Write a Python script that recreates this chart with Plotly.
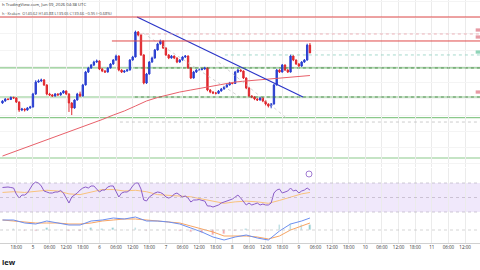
import plotly.graph_objects as go
import pandas as pd

# ---------------- data (hourly candles, Jun 4 13:00 -> Jun 9 04:00) ----------------
start_time = "2026-06-04 13:00"
n_candles = 112

opens = [133.50,133.75,133.99,133.93,134.18,134.12,133.62,132.64,132.76,132.64,
         132.89,133.01,134.61,136.08,136.21,136.33,135.72,134.61,134.49,134.36,
         134.61,134.49,134.73,134.98,134.61,133.50,132.89,133.87,134.61,134.36,
         135.72,137.31,137.81,138.17,138.54,138.67,137.68,137.44,137.31,137.81,
         138.30,138.79,139.28,137.56,137.31,137.44,137.56,138.79,139.16,142.23,
         141.87,139.41,135.96,137.07,138.54,139.04,140.02,140.76,141.13,140.27,
         139.41,139.04,139.28,139.04,138.54,138.79,139.16,139.28,137.81,136.58,
         137.31,137.56,137.62,137.68,137.81,135.10,134.85,134.73,134.70,134.98,
         135.22,135.47,135.72,135.96,135.90,137.31,137.56,137.44,136.58,135.35,
         134.36,134.24,133.99,133.87,134.12,133.75,133.38,133.13,133.38,135.72,
         137.56,137.31,138.17,137.56,137.31,139.28,138.79,138.30,138.05,138.54,
         138.79,140.62]
closes = [133.75,133.99,133.93,134.18,134.12,133.62,132.64,132.76,132.64,132.89,
          133.01,134.61,136.08,136.21,136.33,135.72,134.61,134.49,134.36,134.61,
          134.49,134.73,134.98,134.61,133.50,132.89,133.87,134.61,134.36,135.72,
          137.31,137.81,138.17,138.54,138.67,137.68,137.44,137.31,137.81,138.30,
          138.79,139.28,137.56,137.31,137.44,137.56,138.79,139.16,142.23,141.87,
          139.41,135.96,137.07,138.54,139.04,140.02,140.76,141.13,140.27,139.41,
          139.04,139.28,139.04,138.54,138.79,139.16,139.28,137.81,136.58,137.31,
          137.56,137.62,137.68,137.81,135.10,134.85,134.73,134.70,134.98,135.22,
          135.47,135.72,135.96,135.90,137.31,137.56,137.44,136.58,135.35,134.36,
          134.24,133.99,133.87,134.12,133.75,133.38,133.13,133.38,135.72,137.56,
          137.31,138.17,137.56,137.31,139.28,138.79,138.30,138.05,138.54,138.79,
          140.62,139.66]
highs = [133.85,134.10,134.08,134.30,134.28,134.20,133.70,132.90,132.85,133.00,
         133.15,134.75,136.30,136.40,136.50,136.45,135.80,134.75,134.60,134.72,
         134.70,134.85,135.10,135.05,134.70,133.60,133.95,134.75,134.90,135.85,
         137.45,137.95,138.30,138.70,138.85,138.75,137.80,137.55,137.90,138.40,
         138.90,139.45,139.35,137.65,137.55,137.70,138.90,139.30,142.40,142.35,
         141.95,139.50,137.20,138.65,139.20,140.15,140.90,141.30,141.20,140.35,
         139.50,139.40,139.35,139.10,138.90,139.25,139.40,139.35,137.90,137.45,
         137.65,137.75,137.80,137.95,137.90,135.20,134.95,134.85,135.10,135.35,
         135.60,135.85,136.10,136.05,137.45,137.70,137.65,137.50,136.65,135.45,
         134.45,134.35,134.10,134.25,134.20,133.85,133.45,133.50,135.85,137.70,
         137.65,138.30,138.25,137.65,139.45,139.40,138.85,138.40,138.65,138.90,
         140.80,140.88]
lows = [133.40,133.65,133.85,133.88,134.00,133.50,132.40,132.50,132.45,132.55,
        132.80,132.95,134.50,136.00,136.10,135.60,134.45,134.35,134.25,134.28,
        134.40,134.40,134.65,134.50,132.40,132.02,132.80,133.80,134.25,134.30,
        135.65,137.20,137.70,138.05,138.45,137.55,137.30,137.20,137.25,137.75,
        138.20,138.70,137.40,137.20,137.20,137.35,137.50,138.70,139.10,141.70,
        139.30,135.80,135.85,137.00,138.45,138.95,139.95,140.65,140.15,139.30,
        138.90,138.95,138.90,138.40,138.45,138.70,139.05,137.70,136.45,136.50,
        137.20,137.45,137.50,137.60,134.95,134.70,134.60,134.55,134.60,134.90,
        135.15,135.40,135.65,135.80,135.85,137.20,137.30,136.45,135.20,134.20,
        134.10,133.85,133.75,133.80,133.60,133.20,132.95,132.85,133.30,135.65,
        137.20,137.25,137.45,137.20,137.25,138.65,138.20,137.95,137.95,138.45,
        138.70,139.65]

# moving average (sampled every 4 hours + last bar)
ma_values = [126.98,127.47,127.97,128.46,128.95,129.44,129.93,130.43,130.92,131.47,
             132.02,132.52,133.13,133.75,134.18,134.55,134.85,135.10,135.35,135.65,
             135.90,136.08,136.21,136.33,136.45,136.58,136.70,136.82,136.88]

rsi_values = [63.8,64.5,64.5,63.8,63.1,54.8,49.3,53.4,53.4,56.2,
              61.7,68.6,71.4,70.0,65.9,59.0,57.6,56.2,56.2,57.6,
              57.6,59.7,56.2,49.3,42.4,50.7,53.4,56.2,60.3,63.1,
              64.5,63.1,65.9,65.9,61.7,57.6,60.3,60.3,64.5,65.9,
              65.9,59.0,50.7,56.2,57.6,57.6,60.3,65.9,70.0,70.0,
              61.7,46.6,45.2,50.7,53.4,56.2,57.6,56.9,54.8,50.7,
              49.3,50.7,54.8,56.2,53.4,50.7,52.1,49.3,43.8,46.6,
              46.6,47.2,46.0,45.2,38.3,38.3,36.9,38.3,39.7,42.4,
              43.8,45.2,46.6,47.9,50.7,53.4,49.3,45.2,39.7,42.4,
              39.7,41.0,42.4,39.7,41.0,39.7,39.7,42.4,56.2,60.3,
              61.7,56.2,57.6,59.0,63.1,59.0,60.3,56.2,59.0,60.3,
              63.1,60.3]
rsi_ma = [57,58,57,58,60,59,55,54,58,61,61,59,60,58,54,53,52,51,48,45,
          42,44,45,44,42,46,51,55,57]

macd_line = [0.5,0.5,0.35,0.3,0.45,0.35,0.25,0.25,0.45,0.5,0.6,0.55,0.65,0.45,0.45,
             0.4,0.3,0.1,-0.1,-0.35,-0.5,-0.35,-0.25,-0.4,-0.5,-0.05,0.3,0.45,0.6]
signal_line = [0.5,0.45,0.4,0.35,0.35,0.35,0.3,0.3,0.35,0.45,0.5,0.55,0.55,0.5,0.45,
               0.4,0.35,0.2,0.05,-0.1,-0.3,-0.3,-0.3,-0.35,-0.45,-0.3,0.0,0.2,0.35]
macd_hist = [0,0.05,-0.05,-0.05,0.1,0,-0.05,-0.05,0.1,0.05,0.1,0,0.1,-0.05,0,
             0,-0.05,-0.1,-0.15,-0.25,-0.2,-0.05,0.05,-0.05,-0.05,0.25,0.3,0.25,0.25]

# drawn levels / lines
resist_top = 144.08
resist_mid = 141.13
resist_mid_start = "2026-06-06 04:30"
pink_level = 141.99
pink_start = "2026-06-06 14:36"
teal_level = 139.41
teal_start = "2026-06-07 21:18"
green_levels = [137.81, 134.24, 131.71, 126.74]
green_dash_start = "2026-06-06 12:48"
gray_level = 131.16
gray_start = "2026-06-06 07:24"
trend_times = ["2026-06-06 13:36", "2026-06-09 01:30"]
trend_prices = [144.08, 134.24]
fan1_times = ["2026-06-06 15:42", "2026-06-08 02:42"]
fan1_prices = [142.11, 134.24]
fan2_times = ["2026-06-07 19:00", "2026-06-08 19:30"]
fan2_prices = [138.54, 131.66]
# cropped price tags at the right edge (price, colour)
edge_tags = [(142.48, "#e79aa4"), (141.62, "#e79aa4"), (139.77, "#8fd4b8"), (134.85, "#e79aa4")]

tick_text = ["12:00","18:00","5","06:00","12:00","18:00","6","06:00","12:00","18:00",
             "7","06:00","12:00","18:00","8","06:00","12:00","18:00","9","06:00",
             "12:00","18:00","10","06:00","12:00","18:00","11","06:00","12:00","18:00"]

header1 = "h TradingView.com, Jun 09, 2026 04:38 UTC"
header2 = "h · Kraken  O140.62 H140.88 L139.65 C139.66 −0.95 (−0.68%)"
footer = "iew"

# ---------------- figure ----------------
times = pd.date_range(start_time, periods=n_candles, freq="h")
sample_idx = list(range(0, n_candles, 4)) + [n_candles - 1]
sample_times = times[sample_idx]
tick_vals = pd.date_range("2026-06-04 12:00", periods=len(tick_text), freq="6h")
x_range = ["2026-06-04 12:06", "2026-06-11 17:24"]
end_time = x_range[1]

BLUE = "#2a3fd0"
RED = "#e0282e"
GRID = "#ebebeb"

fig = go.Figure()

fig.add_trace(go.Scatter(x=sample_times, y=ma_values, mode="lines",
                         line=dict(color="#e8606a", width=1), xaxis="x", yaxis="y"))
fig.add_trace(go.Scatter(x=trend_times, y=trend_prices, mode="lines",
                         line=dict(color="#2b35c8", width=1.2), xaxis="x", yaxis="y"))
for ft, fp in [(fan1_times, fan1_prices), (fan2_times, fan2_prices)]:
    fig.add_trace(go.Scatter(x=ft, y=fp, mode="lines",
                             line=dict(color="#c8c8c8", width=0.8, dash="dot"),
                             xaxis="x", yaxis="y"))

fig.add_trace(go.Candlestick(
    x=times, open=opens, high=highs, low=lows, close=closes,
    increasing=dict(line=dict(color=BLUE, width=1), fillcolor=BLUE),
    decreasing=dict(line=dict(color=RED, width=1), fillcolor=RED),
    whiskerwidth=0, xaxis="x", yaxis="y"))

# RSI
fig.add_trace(go.Scatter(x=sample_times, y=rsi_ma, mode="lines",
                         line=dict(color="rgba(250,190,110,0.9)", width=1),
                         xaxis="x2", yaxis="y2"))
fig.add_trace(go.Scatter(x=times, y=rsi_values, mode="lines",
                         line=dict(color="#8a5cc8", width=1), xaxis="x2", yaxis="y2"))

# MACD
hist_colors = ["rgba(38,166,154,0.55)" if v >= 0 else "rgba(255,82,82,0.55)" for v in macd_hist]
fig.add_trace(go.Bar(x=sample_times, y=macd_hist, marker_color=hist_colors,
                     width=3600 * 1000 * 0.6, xaxis="x3", yaxis="y3"))
fig.add_trace(go.Scatter(x=sample_times, y=signal_line, mode="lines",
                         line=dict(color="#f7a463", width=1), xaxis="x3", yaxis="y3"))
fig.add_trace(go.Scatter(x=sample_times, y=macd_line, mode="lines",
                         line=dict(color="#6c8ff0", width=1), xaxis="x3", yaxis="y3"))

shapes = []
shapes.append(dict(type="line", xref="paper", x0=0, x1=1, yref="y", y0=resist_top, y1=resist_top,
                   line=dict(color="#e04a4a", width=1)))
shapes.append(dict(type="line", xref="x", x0=resist_mid_start, x1=end_time, yref="y",
                   y0=resist_mid, y1=resist_mid, line=dict(color="#e04a4a", width=1)))
shapes.append(dict(type="line", xref="x", x0=pink_start, x1=end_time, yref="y",
                   y0=pink_level, y1=pink_level, line=dict(color="#e8a0a8", width=0.8, dash="dot")))
shapes.append(dict(type="line", xref="x", x0=teal_start, x1=end_time, yref="y",
                   y0=teal_level, y1=teal_level, line=dict(color="#8fd0c0", width=0.8, dash="dot")))
shapes.append(dict(type="line", xref="x", x0=gray_start, x1=end_time, yref="y",
                   y0=gray_level, y1=gray_level, line=dict(color="#c0c0c0", width=0.8, dash="dot")))
for g in green_levels:
    shapes.append(dict(type="line", xref="paper", x0=0, x1=1, yref="y", y0=g, y1=g,
                       line=dict(color="#8cc98c", width=1.2), layer="below"))
for g in green_levels[:2]:
    shapes.append(dict(type="line", xref="x", x0=green_dash_start, x1=end_time, yref="y",
                       y0=g, y1=g, line=dict(color="#3d7a3d", width=0.8, dash="dot")))
for price, col in edge_tags:
    shapes.append(dict(type="rect", xref="paper", x0=0.991, x1=1.0, yref="y",
                       y0=price - 0.2, y1=price + 0.2, fillcolor=col, line=dict(width=0)))
shapes.append(dict(type="rect", xref="paper", x0=0, x1=1, yref="y2", y0=30, y1=70,
                   fillcolor="rgba(160,110,230,0.16)", line=dict(width=0), layer="below"))
for lv in (70, 50, 30):
    shapes.append(dict(type="line", xref="paper", x0=0, x1=1, yref="y2", y0=lv, y1=lv,
                       line=dict(color="#b0a8b8", width=0.6, dash="dot")))
shapes.append(dict(type="line", xref="paper", x0=0, x1=1, yref="y3", y0=0, y1=0,
                   line=dict(color="#bbbbbb", width=0.6, dash="dot")))
# small indicator icon in the RSI pane
shapes.append(dict(type="circle", xref="paper", yref="paper",
                   x0=306 / 480, x1=312 / 480, y0=1 - 177 / 270, y1=1 - 171 / 270,
                   line=dict(color="#8a5cc8", width=0.8), fillcolor="rgba(255,255,255,0)"))

annotations = [
    dict(text=header1, xref="paper", yref="paper", x=0, y=1 - 4 / 270, xanchor="left",
         yanchor="middle", showarrow=False, font=dict(size=4.2, color="#333", family="Open Sans")),
    dict(text=header2, xref="paper", yref="paper", x=0, y=1 - 13 / 270, xanchor="left",
         yanchor="middle", showarrow=False, font=dict(size=3.9, color="#444", family="Open Sans")),
    dict(text="<b>" + footer + "</b>", xref="paper", yref="paper", x=0, y=1 - 262 / 270,
         xanchor="left", yanchor="middle", showarrow=False,
         font=dict(size=7.5, color="#131722", family="Open Sans")),
]

xcommon = dict(range=x_range, type="date", tickvals=tick_vals, ticktext=tick_text,
               showgrid=True, gridcolor=GRID, gridwidth=1, zeroline=False,
               rangeslider=dict(visible=False), fixedrange=True)

fig.update_layout(
    width=480, height=270, autosize=False,
    margin=dict(l=0, r=0, t=0, b=0),
    paper_bgcolor="white", plot_bgcolor="white",
    showlegend=False, bargap=0,
    xaxis=dict(**xcommon, anchor="y", showticklabels=False, ticks=""),
    xaxis2=dict(**xcommon, anchor="y2", matches="x", showticklabels=False, ticks=""),
    xaxis3=dict(**xcommon, anchor="y3", matches="x", showticklabels=True, ticks="",
                showline=True, linecolor="#d0d0d0", linewidth=1,
                tickfont=dict(size=4.5, color="#333", family="Open Sans")),
    yaxis=dict(domain=[1 - 167 / 270, 1], range=[125.63, 146.17], showgrid=True,
               gridcolor="#f4f4f4", dtick=2, showticklabels=False, zeroline=False),
    yaxis2=dict(domain=[1 - 215 / 270, 1 - 168 / 270], range=[25.9, 90.7], showgrid=False,
                showticklabels=False, zeroline=False),
    yaxis3=dict(domain=[1 - 243 / 270, 1 - 215 / 270], range=[-0.65, 0.75], showgrid=False,
                showticklabels=False, zeroline=False),
    shapes=shapes, annotations=annotations,
)

fig.write_html("out.html")
